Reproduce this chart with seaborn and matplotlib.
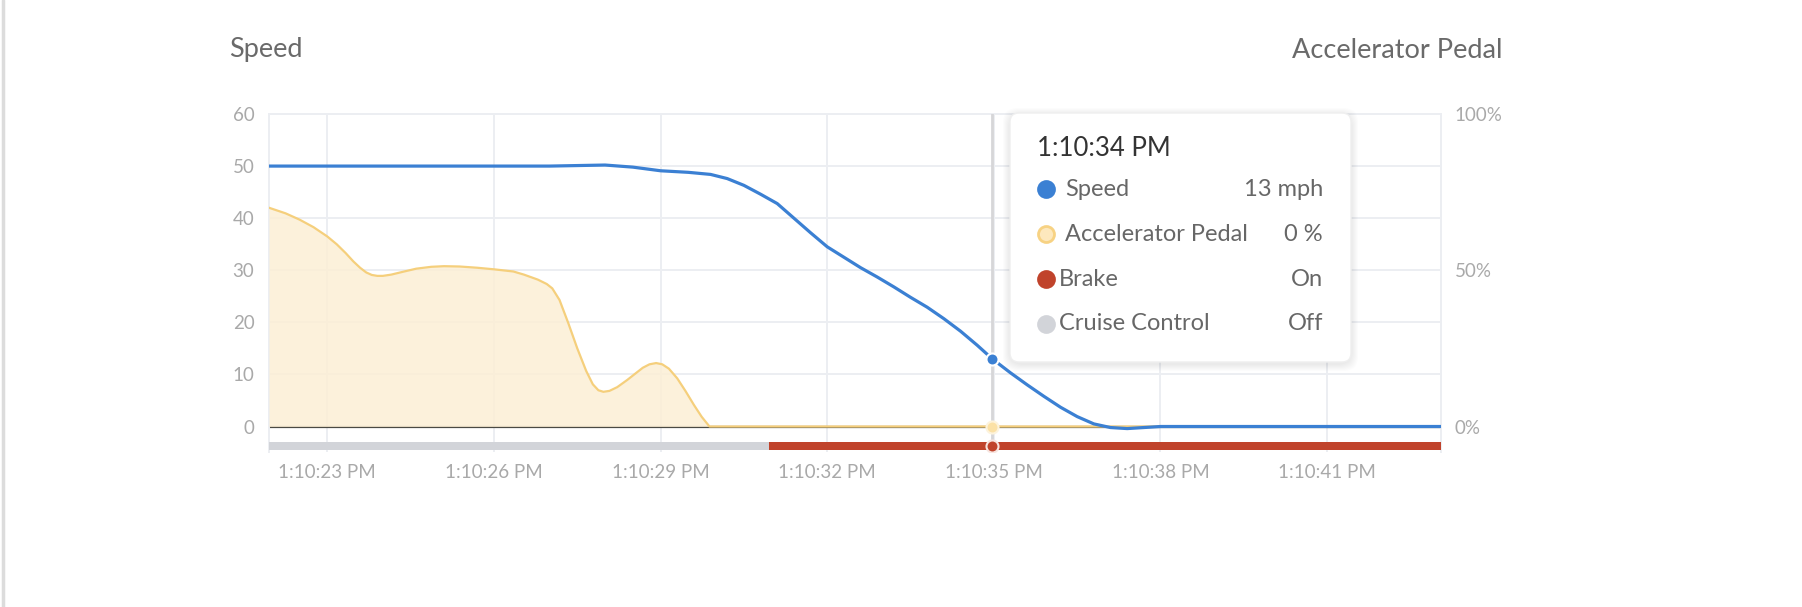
import matplotlib
matplotlib.use("Agg")
import matplotlib.pyplot as plt
import seaborn as sns
import numpy as np
import pandas as pd
from matplotlib.patches import FancyBboxPatch
from matplotlib.lines import Line2D

# ---------------- data ----------------
speed_t = [21.95, 23.0, 25.0, 27.0, 27.5, 28.0, 28.5, 29.0, 29.5, 29.9, 30.2, 30.5,
           30.8, 31.1, 31.4, 31.7, 32.0, 32.3, 32.6, 32.9, 33.2, 33.5, 33.8, 34.1,
           34.4, 34.7, 34.97, 35.3, 35.6, 35.9, 36.2, 36.5, 36.8, 37.1, 37.4, 37.7,
           38.0, 43.05]
speed_mph = [50, 50, 50, 50, 50.1, 50.2, 49.8, 49.1, 48.8, 48.4, 47.6, 46.3,
             44.6, 42.8, 40.0, 37.2, 34.5, 32.5, 30.5, 28.7, 26.8, 24.8, 22.9, 20.7,
             18.3, 15.6, 13.0, 10.3, 8.0, 5.8, 3.7, 1.9, 0.5, -0.2, -0.4, -0.2,
             0, 0]

pedal_t = [21.95, 22.25, 22.5, 22.75, 23.0, 23.17, 23.33, 23.47, 23.59, 23.7, 23.8,
           23.9, 24.0, 24.15, 24.36, 24.6, 24.87, 25.1, 25.38, 25.7, 26.0, 26.35,
           26.54, 26.79, 26.95, 27.05, 27.18, 27.34, 27.5, 27.66, 27.78, 27.88,
           27.97, 28.08, 28.22, 28.4, 28.55, 28.68, 28.8, 28.92, 29.03, 29.15,
           29.3, 29.45, 29.6, 29.74, 29.88, 43.05]
pedal_pct = [70.0, 68.2, 66.2, 63.8, 60.8, 58.3, 55.5, 52.8, 50.8, 49.3, 48.5,
             48.2, 48.2, 48.6, 49.5, 50.5, 51.1, 51.3, 51.2, 50.8, 50.3, 49.6,
             48.6, 47.0, 45.6, 44.2, 40.5, 33.0, 25.0, 17.8, 13.5, 11.6,
             11.1, 11.4, 12.6, 14.9, 17.0, 18.8, 19.9, 20.3, 19.9, 18.5,
             15.4, 11.3, 6.9, 3.1, 0.0, 0.0]

bar_start = [21.95, 30.95]          # brake-state segments
bar_end = [30.95, 43.05]
bar_state = ["Off", "On"]

cursor_t = 34.97
cursor_speed = 13
cursor_pedal = 0

tick_seconds = [23, 26, 29, 32, 35, 38, 41]
tick_labels = ["1:10:23 PM", "1:10:26 PM", "1:10:29 PM", "1:10:32 PM",
               "1:10:35 PM", "1:10:38 PM", "1:10:41 PM"]
speed_ticks = [0, 10, 20, 30, 40, 50, 60]
pedal_ticks = [0, 50, 100]
pedal_tick_labels = ["0%", "50%", "100%"]

tooltip_title = "1:10:34 PM"
tooltip_names = ["Speed", "Accelerator Pedal", "Brake", "Cruise Control"]
tooltip_values = ["13 mph", "0 %", "On", "Off"]

# ---------------- style ----------------
sns.set_theme(style="white")
plt.rcParams["font.family"] = ["Lato", "DejaVu Sans"]

BLUE = "#3b80d3"
YEL_LINE = "#f5cf7c"
YEL_FILL = "#fcefd5"
RED = "#c0432b"
GRAY_BAR = "#d2d4d9"
GRID = "#eceef2"
TICK = "#a9a9a9"

W, H = 1802, 607
fig = plt.figure(figsize=(W / 100, H / 100), dpi=100)
fig.patch.set_facecolor("white")

def fx(px):
    return px / W

def fy(py):
    return 1 - py / H

top_px, bot_px = 114, 451.5
ax = fig.add_axes([fx(269), fy(bot_px), fx(1441) - fx(269), (bot_px - top_px) / H])
ymin, ymax = -4.8, 60
xmin, xmax = 21.95, 43.05
ax.set_xlim(xmin, xmax)
ax.set_ylim(ymin, ymax)
ax.grid(True, color=GRID, linewidth=1.4)
for s in ["left", "right", "top"]:
    ax.spines[s].set_visible(True)
    ax.spines[s].set_color(GRID)
    ax.spines[s].set_linewidth(1.4)
ax.spines["bottom"].set_visible(False)
ax.axhline(0, color="#4a4a44", linewidth=1.6, zorder=1)

# pedal on right scale
axp = ax.twinx()
axp.set_ylim(ymin * 100 / 60, 100)
for s in axp.spines.values():
    s.set_visible(False)
axp.grid(False)
axp.fill_between(pedal_t, 0, pedal_pct, color=YEL_FILL, alpha=0.85, linewidth=0, zorder=1)
sns.lineplot(x=pedal_t, y=pedal_pct, ax=axp, color=YEL_LINE, linewidth=1.6, zorder=2)

# speed on top layer sharing left scale
axs = ax.twinx()
axs.set_ylim(ymin, ymax)
for s in axs.spines.values():
    s.set_visible(False)
axs.grid(False)

axs.axvline(cursor_t, color="#d6d6d8", linewidth=2, zorder=1)
sns.lineplot(x=speed_t, y=speed_mph, ax=axs, color=BLUE, linewidth=2.3, zorder=3)

bar_y = -3.75
bar_h = 1.65
for s0, s1, st in zip(bar_start, bar_end, bar_state):
    axs.barh(bar_y, s1 - s0, left=s0, height=bar_h,
             color=RED if st == "On" else GRAY_BAR, linewidth=0, zorder=2)

axs.scatter([cursor_t], [cursor_speed], s=75, color=BLUE, edgecolor="white",
            linewidth=1.5, zorder=5)
axs.scatter([cursor_t], [cursor_pedal * 60 / 100], s=75, color="#fbe1a6",
            edgecolor="#fdf3dc", linewidth=1.5, zorder=5)
axs.scatter([cursor_t], [bar_y], s=75, color=RED, edgecolor="#f7e4df",
            linewidth=1.5, zorder=5)

# ticks (set after plotting so seaborn does not override)
ax.set_xlim(xmin, xmax)
ax.set_xticks(tick_seconds)
ax.set_xticklabels(tick_labels)
ax.set_yticks(speed_ticks)
ax.tick_params(axis="both", length=0, labelcolor=TICK, labelsize=13.5)
ax.tick_params(axis="y", pad=10.5)
ax.tick_params(axis="x", pad=9)
axp.set_yticks(pedal_ticks)
axp.set_yticklabels(pedal_tick_labels)
axp.tick_params(axis="y", length=0, labelcolor=TICK, labelsize=13.5, pad=10)
axs.set_yticks([])
axs.tick_params(axis="x", labelbottom=False, length=0)
axp.tick_params(axis="x", labelbottom=False, length=0)
for a in (ax, axp, axs):
    a.set_xlabel("")
    a.set_ylabel("")

# axis titles
fig.text(fx(229), fy(50), "Speed", ha="left", va="center", fontsize=19.5, color="#6a6a6a")
fig.text(fx(1502), fy(51), "Accelerator Pedal", ha="right", va="center",
         fontsize=19.5, color="#6a6a6a")

# left page border
fig.add_artist(Line2D([fx(2.5), fx(2.5)], [0, 1], color="#dcdcdc", linewidth=2.5))

# tooltip
bx0, by0, bx1, by1 = 1010, 113, 1351, 362
for k in range(7, 0, -1):
    sh = FancyBboxPatch((fx(bx0 - k), fy(by1 + k + 2)),
                        fx(bx1 - bx0 + 2 * k), (by1 - by0 + 2 * k) / H,
                        boxstyle="round,pad=0,rounding_size=0.008",
                        transform=fig.transFigure, facecolor="#000000",
                        edgecolor="none", alpha=0.012, zorder=10,
                        mutation_aspect=W / H)
    fig.add_artist(sh)
box = FancyBboxPatch((fx(bx0), fy(by1)), fx(bx1 - bx0), (by1 - by0) / H,
                     boxstyle="round,pad=0,rounding_size=0.005",
                     transform=fig.transFigure, facecolor="white",
                     edgecolor="#efefef", linewidth=1, zorder=11,
                     mutation_aspect=W / H)
fig.add_artist(box)

fig.text(fx(1037), fy(148), tooltip_title, ha="left", va="center",
         fontsize=18.5, color="#333333", zorder=12)
row_y = [189, 234, 279, 324]
dot_face = [BLUE, "#fde8bd", RED, GRAY_BAR]
dot_edge = [BLUE, "#f7d283", RED, GRAY_BAR]
label_x = [1065, 1065, 1059, 1059]
for yy, name, val, fc, ec, lx in zip(row_y, tooltip_names, tooltip_values,
                                     dot_face, dot_edge, label_x):
    fig.add_artist(Line2D([fx(1046)], [fy(yy)], marker="o", markersize=11.5,
                          markerfacecolor=fc, markeredgecolor=ec,
                          markeredgewidth=2, linestyle="none", zorder=12))
    fig.text(fx(lx), fy(yy), name, ha="left", va="center", fontsize=17,
             color="#676767", zorder=12)
    fig.text(fx(1323), fy(yy), val, ha="right", va="center", fontsize=17,
             color="#676767", zorder=12)

fig.savefig("out.png", dpi=100, facecolor="white")
